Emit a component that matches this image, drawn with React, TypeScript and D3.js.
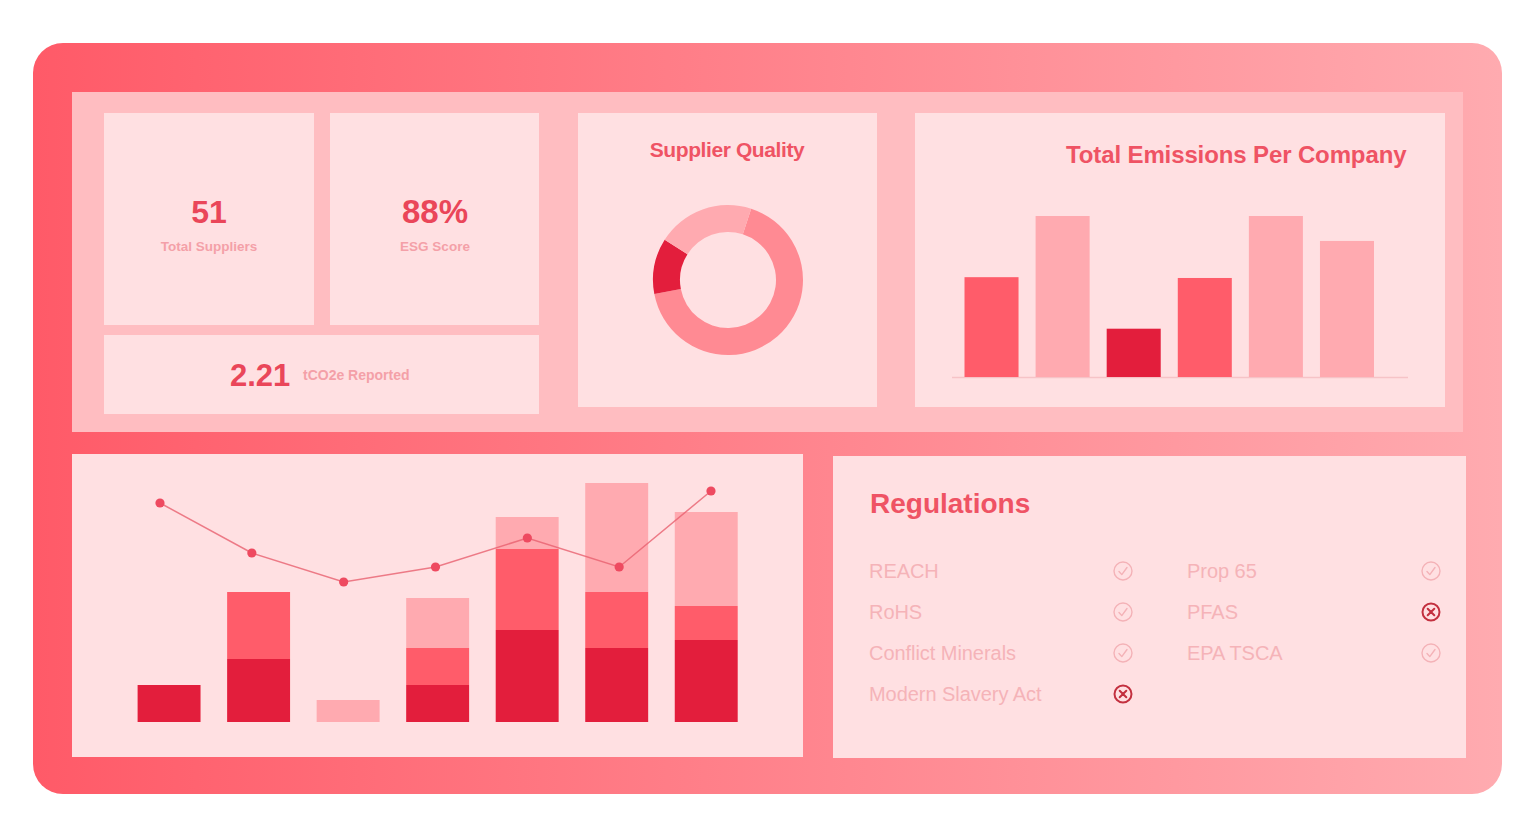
import React from "react";
import * as d3 from "d3";

// ---------- DATA ----------
const kpiValues = ["51", "88%", "2.21"];
const kpiLabels = ["Total Suppliers", "ESG Score", "tCO2e Reported"];

const qualityLabels = ["Medium", "Low", "High"];
const qualityValues = [67, 12, 21];

const companies = ["A", "B", "C", "D", "E", "F"];
const emissions = [62, 100, 30, 61.5, 100, 84.5];
const emissionLevels = ["mid", "light", "dark", "mid", "light", "light"];

const periods = ["P1", "P2", "P3", "P4", "P5", "P6", "P7"];
const seriesDark = [37, 63, 0, 37, 92, 74, 82];
const seriesMid = [0, 67, 0, 37, 81, 56, 34];
const seriesLight = [0, 0, 22, 50, 32, 109, 94];
const trendValues = [219, 169, 140, 155, 184, 155, 231];

const regNamesLeft = ["REACH", "RoHS", "Conflict Minerals", "Modern Slavery Act"];
const regStatusLeft = [true, true, true, false];
const regNamesRight = ["Prop 65", "PFAS", "EPA TSCA"];
const regStatusRight = [true, false, true];

// ---------- STYLE ----------
const C = {
  dark: "#e31e3c",
  mid: "#ff5c6a",
  light: "#ffaab0",
  donutMid: "#ff8a93",
  panel: "#ffbdc1",
  card: "#ffe0e2",
  title: "#ef5364",
  label: "#f4a0a8",
  regText: "#f5b3b8",
};
const levelColor: Record<string, string> = { dark: C.dark, mid: C.mid, light: C.light };
const FONT = "'Liberation Sans', Arial, Helvetica, sans-serif";

function Donut() {
  const cx = 728, cy = 280;
  const pie = d3
    .pie<number>()
    .sort(null)
    .startAngle((18 * Math.PI) / 180)
    .endAngle((18 * Math.PI) / 180 + 2 * Math.PI);
  const arc = d3.arc<d3.PieArcDatum<number>>().innerRadius(48).outerRadius(75);
  const colors = [C.donutMid, C.dark, C.light];
  const arcs = pie(qualityValues);
  return (
    <g transform={`translate(${cx},${cy})`}>
      {arcs.map((a, i) => (
        <path key={qualityLabels[i]} d={arc(a) || ""} fill={colors[i]} />
      ))}
    </g>
  );
}

function Emissions() {
  const x = d3.scaleBand<string>().domain(companies).range([964.5, 1374]).paddingInner(0.24).paddingOuter(0);
  const y = d3.scaleLinear().domain([0, 100]).range([377, 216]);
  return (
    <g>
      <line x1={952} x2={1408} y1={y(0) + 0.5} y2={y(0) + 0.5} stroke="#f6c3c7" strokeWidth={1.5} />
      {companies.map((c, i) => (
        <rect
          key={c}
          x={x(c)}
          y={y(emissions[i])}
          width={x.bandwidth()}
          height={y(0) - y(emissions[i])}
          fill={levelColor[emissionLevels[i]]}
        />
      ))}
    </g>
  );
}

function Combo() {
  const x = d3.scaleBand<string>().domain(periods).range([137.6, 737.7]).paddingInner(0.297).paddingOuter(0);
  const xp = d3.scalePoint<string>().domain(periods).range([160, 711]);
  const y = d3.scaleLinear().domain([0, 250]).range([722, 472]);
  const stackData = periods.map((p, i) => ({ p, dark: seriesDark[i], mid: seriesMid[i], light: seriesLight[i] }));
  const stack = d3.stack<any>().keys(["dark", "mid", "light"])(stackData);
  const line = d3
    .line<number>()
    .x((_, i) => xp(periods[i]) as number)
    .y((d) => y(d));
  return (
    <g>
      {stack.map((layer) =>
        layer.map((d, i) =>
          d[1] - d[0] > 0 ? (
            <rect
              key={layer.key + i}
              x={x(periods[i])}
              y={y(d[1])}
              width={x.bandwidth()}
              height={y(d[0]) - y(d[1])}
              fill={levelColor[layer.key]}
            />
          ) : null
        )
      )}
      <path d={line(trendValues) || ""} fill="none" stroke="#e9606f" strokeOpacity={0.8} strokeWidth={1.5} />
      {trendValues.map((v, i) => (
        <circle key={i} cx={xp(periods[i])} cy={y(v)} r={4.6} fill="#ee4a60" />
      ))}
    </g>
  );
}

function StatusIcon({ ok, cx, cy }: { ok: boolean; cx: number; cy: number }) {
  if (ok) {
    return (
      <g transform={`translate(${cx},${cy})`} fill="none" stroke="#f4b2b7" strokeWidth={1.4}>
        <circle r={9} />
        <path d="M-4,0.5 L-1.2,3.6 L4,-3.5" strokeLinecap="round" strokeLinejoin="round" />
      </g>
    );
  }
  return (
    <g transform={`translate(${cx},${cy})`} fill="none" stroke="#c3303f" strokeWidth={2}>
      <circle r={8.5} />
      <path d="M-3.3,-3.3 L3.3,3.3 M3.3,-3.3 L-3.3,3.3" strokeLinecap="round" />
    </g>
  );
}

function Regulations() {
  const rows = d3.scalePoint<number>().domain([0, 1, 2, 3]).range([571, 694]);
  return (
    <g fontFamily={FONT}>
      <text x={870} y={513} fontSize={28} fontWeight={700} fill={C.title}>
        Regulations
      </text>
      {regNamesLeft.map((n, i) => (
        <g key={n}>
          <text x={869} y={(rows(i) as number) + 7} fontSize={20} fill={C.regText} letterSpacing={-0.05}>
            {n}
          </text>
          <StatusIcon ok={regStatusLeft[i]} cx={1123} cy={rows(i) as number} />
        </g>
      ))}
      {regNamesRight.map((n, i) => (
        <g key={n}>
          <text x={1187} y={(rows(i) as number) + 7} fontSize={20} fill={C.regText} letterSpacing={-0.05}>
            {n}
          </text>
          <StatusIcon ok={regStatusRight[i]} cx={1431} cy={rows(i) as number} />
        </g>
      ))}
    </g>
  );
}

export default function App() {
  return (
    <svg
      width={1536}
      height={824}
      style={{ position: "absolute", left: 0, top: 0, background: "#ffffff" }}
      fontFamily={FONT}
    >
      <defs>
        <linearGradient id="frameGrad" x1="0" x2="1" y1="0" y2="0">
          <stop offset="0" stopColor="#ff5a68" />
          <stop offset="1" stopColor="#ffabb0" />
        </linearGradient>
      </defs>
      <rect x={33} y={43} width={1469} height={751} rx={30} fill="url(#frameGrad)" />

      {/* top panel */}
      <rect x={72} y={92} width={1391} height={340} fill={C.panel} />
      <rect x={104} y={113} width={210} height={212} fill={C.card} />
      <rect x={330} y={113} width={209} height={212} fill={C.card} />
      <rect x={104} y={335} width={435} height={79} fill={C.card} />
      <rect x={578} y={113} width={299} height={294} fill={C.card} />
      <rect x={915} y={113} width={530} height={294} fill={C.card} />

      {/* bottom panels */}
      <rect x={72} y={454} width={731} height={303} fill={C.card} />
      <rect x={833} y={456} width={633} height={302} fill={C.card} />

      {/* KPIs */}
      <text x={209} y={223} textAnchor="middle" fontSize={32} fontWeight={700} fill="#ea4659">
        {kpiValues[0]}
      </text>
      <text x={209} y={251} textAnchor="middle" fontSize={13.5} fontWeight={700} fill={C.label}>
        {kpiLabels[0]}
      </text>
      <text x={435} y={223} textAnchor="middle" fontSize={33} fontWeight={700} fill="#ea4659">
        {kpiValues[1]}
      </text>
      <text x={435} y={251} textAnchor="middle" fontSize={13.5} fontWeight={700} fill={C.label}>
        {kpiLabels[1]}
      </text>
      <text x={230} y={386} fontSize={31} fontWeight={700} fill="#ea4659">
        {kpiValues[2]}
      </text>
      <text x={303} y={380} fontSize={14} fontWeight={700} fill={C.label}>
        {kpiLabels[2]}
      </text>

      {/* Donut */}
      <text x={727} y={157} textAnchor="middle" fontSize={21} fontWeight={700} fill={C.title} letterSpacing={-0.4}>
        Supplier Quality
      </text>
      <Donut />

      {/* Emissions */}
      <text x={1066} y={163} fontSize={24} fontWeight={700} fill={C.title} letterSpacing={-0.12}>
        Total Emissions Per Company
      </text>
      <Emissions />

      <Combo />
      <Regulations />
    </svg>
  );
}
